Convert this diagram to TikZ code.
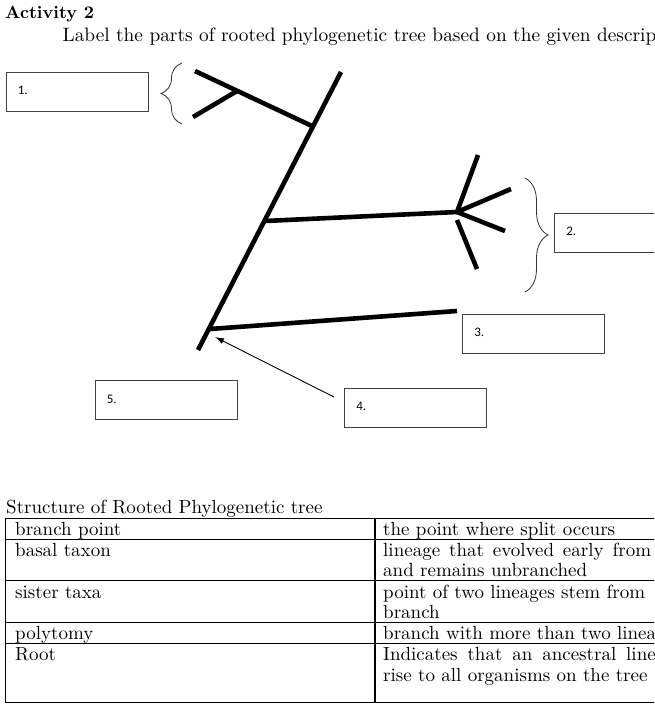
\documentclass[tikz,border=0pt]{standalone}
\usepackage{fontspec}
\setmainfont{lmroman10-regular.otf}[BoldFont=lmroman10-bold.otf]
\newfontfamily\labelfont{Carlito}
\usepackage{tikz}
\usetikzlibrary{calc}
\usetikzlibrary{arrows.meta}
\usetikzlibrary{decorations.pathreplacing}
\tikzset{>=latex}

\begin{document}
\begin{tikzpicture}
                [x=1pt,y=-1pt,
                 branch/.style={line width=4.6pt},
                 labelbox/.style={draw=black!75,line width=0.9pt,minimum width=142pt,minimum height=39pt,inner sep=0pt},
                 labeltext/.style={font=\labelfont\fontsize{13}{15}\selectfont,anchor=base west,inner sep=0pt},
                 bracket/.style={decorate,decoration={brace,amplitude=21pt},line width=0.8pt,black!80},
                 cell/.style={font=\fontsize{19}{21}\selectfont,anchor=base west,inner sep=0pt},
                 rule/.style={line width=1.1pt}]
                \useasboundingbox (0,0) rectangle (654,710);
                \fill[white] (0,0) rectangle (654,710);
                \clip (0,0) rectangle (654,710);

                \node[font=\bfseries\fontsize{17.7}{20}\selectfont,anchor=base west,inner sep=0pt] (title) at (5,18) {Activity 2};
                \node[cell,font=\fontsize{19.35}{21}\selectfont] (task) at (62.5,41) {Label the parts of rooted phylogenetic tree based on the given description};

                \node[labelbox] (box1) at (77,91.5) {};
                \node[labelbox] (box2) at (625.5,232.5) {};
                \node[labelbox] (box3) at (533.5,333.8) {};
                \node[labelbox] (box4) at (415.5,407.8) {};
                \node[labelbox] (box5) at (166,400.3) {};
                \node[labeltext] (lab1) at ([xshift=12pt,yshift=-23pt]box1.north west) {1.};
                \node[labeltext] (lab2) at ([xshift=12pt,yshift=-23pt]box2.north west) {2.};
                \node[labeltext] (lab3) at ([xshift=12pt,yshift=-23pt]box3.north west) {3.};
                \node[labeltext] (lab4) at ([xshift=12pt,yshift=-23pt]box4.north west) {4.};
                \node[labeltext] (lab5) at ([xshift=12pt,yshift=-23pt]box5.north west) {5.};

                \coordinate (top) at (341,72);
                \coordinate (n1) at (312,126);
                \coordinate (n2) at (265,221);
                \coordinate (n3) at (210,329);
                \coordinate (base) at (198,350);
                \coordinate (u1) at (195,71);
                \coordinate (u2) at (237,91);
                \coordinate (u3) at (193,117);
                \coordinate (poly) at (457,212);
                \coordinate (basal) at (457,311);
                \coordinate (tip4) at (215,337);
                \coordinate (from4) at (334,397);

                \draw[branch] (top) -- (base);
                \draw[branch] (n1) -- (u1);
                \draw[branch] (u2) -- (u3);
                \draw[branch] (n2) -- (poly);
                \draw[branch] (poly) -- (478,155);
                \draw[branch] (poly) -- (511,189);
                \draw[branch] (poly) -- (505,231);
                \draw[branch] ([yshift=-8pt]poly) -- (477,269);
                \draw[branch] (n3) -- (basal);

                \draw[-{Latex[length=9pt,width=6pt]},line width=0.9pt] (from4) -- (tip4);

                \draw[bracket] (182,124) -- (182,63);
                \draw[bracket,decoration={amplitude=23pt}] (525,178) -- (525,292);

                \node[cell] (caption) at (6,513.3) {Structure of Rooted Phylogenetic tree};
                \draw[rule] (5.7,518.3) rectangle (720,702.3);
                \draw[rule] (375,518.3) -- (375,702.3);
                \foreach \y in {539.3,580.3,622.7,643.3}
                    \draw[rule] (5.7,\y) -- (720,\y);

                \node[cell] (termA) at (15,535) {branch point};
                \node[cell] (termB) at (15,556.7) {basal taxon};
                \node[cell] (termC) at (15,598.3) {sister taxa};
                \node[cell] (termD) at (15,639) {polytomy};
                \node[cell] (termE) at (15,660.7) {Root};

                \node[cell] (descA) at (383,535) {the point where split occurs};
                \node[cell] (descB) at (383,556.7) {\makebox[268pt][s]{lineage that evolved early from}};
                \node[cell] (descBb) at (383,576.7) {and remains unbranched};
                \node[cell] (descC) at (383,598.3) {point of two lineages stem from};
                \node[cell] (descCb) at (383,618.3) {branch};
                \node[cell] (descD) at (383,639) {branch with more than two lineages};
                \node[cell] (descE) at (383,660.7) {\makebox[300pt][s]{Indicates that an ancestral lineage}};
                \node[cell] (descEb) at (383,681) {rise to all organisms on the tree};
            \end{tikzpicture}
\end{document}
